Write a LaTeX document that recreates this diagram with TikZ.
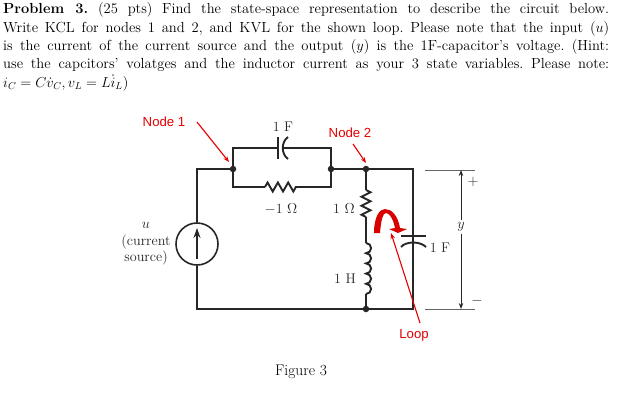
\documentclass[tikz,border=0pt]{standalone}
\usepackage{amsmath}
\usepackage{amssymb}
\usepackage{fontspec}
\newfontfamily\labelfont{Liberation Sans}
\usetikzlibrary{arrows.meta,decorations.pathmorphing}
\tikzset{
  wire/.style={line width=1.9pt, black!85},
  jointdot/.style={circle, fill=black!85, inner sep=0pt, minimum size=6.5pt},
  elabel/.style={font=\fontsize{14}{16}\selectfont, black!85, inner sep=0pt},
  redlabel/.style={font=\labelfont\fontsize{13.2}{15}\selectfont, red!90!black, inner sep=0pt},
  redarrow/.style={-{Stealth[length=6pt,width=4.5pt]}, line width=1.1pt, red!90!black},
  resistor/.style={wire, decorate, decoration={zigzag, segment length=#1, amplitude=4.5pt}},
  dimline/.style={line width=0.9pt, black!60}
}
\begin{document}
\begin{tikzpicture}[x=1pt, y=-1pt]
  \useasboundingbox (0,0) rectangle (617,401);
  % Problem statement
  \node[anchor=north west, inner sep=0pt, text width=606pt, align=justify, font=\fontsize{14.6}{18.4}\selectfont\frenchspacing] (problem) at (3,2.5)
    {\textbf{Problem 3.} (25 pts) Find the state-space representation to describe the circuit below.\linebreak
     Write KCL for nodes 1 and 2, and KVL for the shown loop. Please note that the input ($u$)\linebreak
     is the current of the current source and the output ($y$) is the 1F-capacitor's voltage. (Hint:\linebreak
     use the capcitors' volatges and the inductor current as your 3 state variables. Please note:\linebreak
     $i_C = C\dot{v}_C, v_L = L\dot{i}_L$)};

  % Junctions
  \node[jointdot] (n1) at (233,169) {};
  \node[jointdot] (n3) at (331,169) {};
  \node[jointdot] (n2) at (366,169) {};
  \node[jointdot] (n4) at (366,309) {};

  % Corners of the circuit
  \coordinate (tl) at (197,169);
  \coordinate (bl) at (197,309);
  \coordinate (tr) at (413,169);
  \coordinate (br) at (413,309);
  \coordinate (c1a) at (233,148);
  \coordinate (c1b) at (331,148);
  \coordinate (r1a) at (233,187);
  \coordinate (r1b) at (331,187);

  % Current source
  \node[circle, draw, line width=1.6pt, black!85, minimum size=42pt, inner sep=0pt] (src) at (197,244) {};
  \coordinate (srca) at (197,259);
  \coordinate (srcb) at (197,228);
  \draw[-{Stealth[length=10pt,width=7pt]}, line width=1.2pt, black!85] (srca) -- (srcb);
  \draw[wire] (src) -- (tl) -- (n1);
  \draw[wire, line join=miter] (src) -- (bl) -- (n4) -- (br) -- (tr) -- (n2) -- (n3);

  % Capacitor between the nodes
  \coordinate (cpa) at (278,148);
  \coordinate (cpb) at (283,148);
  \draw[wire] (n1) -- (c1a) -- (cpa);
  \draw[wire] (cpb) -- (c1b) -- (n3);
  \draw[wire] (278,137) -- (278,159);
  \draw[wire] (288,137) .. controls (281,142) and (281,154) .. (288,159);

  % Resistor between the nodes
  \coordinate (rpa) at (265,187);
  \coordinate (rpb) at (296,187);
  \draw[wire] (n1) -- (r1a) -- (rpa);
  \draw[resistor=10.3pt] (rpa) -- (rpb);
  \draw[wire] (rpb) -- (r1b) -- (n3);

  % Middle branch
  \coordinate (rqa) at (366,190);
  \coordinate (rqb) at (366,217);
  \coordinate (la) at (366,243);
  \coordinate (lb) at (366,294);
  \draw[wire] (n2) -- (rqa);
  \draw[resistor=9pt] (rqa) -- (rqb);
  \draw[wire] (rqb) -- (la);
  \draw[wire] (la) \foreach \i in {1,...,5} {arc[start angle=-90, end angle=90, radius=5.1]};
  \draw[wire] (lb) -- (n4);

  % Output capacitor
  \draw[wire] (401,236) -- (426,236);
  \draw[wire] (401,247) .. controls (406,241) and (420,241) .. (426,247);

  % Output voltage
  \coordinate (ta) at (425,170);
  \coordinate (tb) at (475,170);
  \coordinate (ba) at (425,309);
  \coordinate (bb) at (475,309);
  \draw[dimline] (ta) -- (tb);
  \draw[dimline] (ba) -- (bb);
  \node[elabel, inner sep=2pt] (ylab) at (461,227) {$y$};
  \coordinate (ytop) at (461,170);
  \coordinate (ybot) at (461,309);
  \draw[-{Stealth[length=6pt,width=4.5pt]}, line width=0.9pt, black!85] (ylab) -- (ytop);
  \draw[-{Stealth[length=6pt,width=4.5pt]}, line width=0.9pt, black!85] (ylab) -- (ybot);
  \node[elabel] (plus) at (473,182) {$+$};
  \node[elabel] (minus) at (477,301) {$-$};

  % Element labels
  \node[elabel] (c1lab) at (283,127) {1 F};
  \node[elabel] (r1lab) at (281,209) {$-$1 $\Omega$};
  \node[elabel] (r2lab) at (344,209) {1 $\Omega$};
  \node[elabel] (l1lab) at (345,279) {1 H};
  \node[elabel] (c2lab) at (440,248) {1 F};
  \node[elabel, align=center, font=\fontsize{14.2}{16.5}\selectfont] (srclab) at (146,244) {$u$\\(current\\source)};
  \node[inner sep=0pt, font=\fontsize{15.5}{18}\selectfont] (figlab) at (301,372) {Figure 3};

  % Red annotations
  \node[redlabel] (node1) at (164,122) {Node 1};
  \node[redlabel] (node2) at (350,133) {Node 2};
  \node[redlabel] (looplab) at (414,335) {Loop};
  \coordinate (node1a) at (197,122);
  \coordinate (node1b) at (229,162);
  \coordinate (node2a) at (353,144);
  \coordinate (node2b) at (366,163);
  \coordinate (loopa) at (420,323);
  \coordinate (loopb) at (391,233);
  \draw[redarrow] (node1a) -- (node1b);
  \draw[redarrow] (node2a) -- (node2b);
  \draw[redarrow] (loopa) -- (loopb);

  % Loop arrow
  \fill[red!85!black] (374,233) .. controls (374,216) and (380,209) .. (385,209)
    .. controls (392,209) and (398,216) .. (400,228) -- (407,229) -- (398,233) -- (389,229) -- (395,228)
    .. controls (393,218) and (389,213) .. (386,213) .. controls (383,213) and (381,220) .. (380,233) -- cycle;
\end{tikzpicture}
\end{document}
